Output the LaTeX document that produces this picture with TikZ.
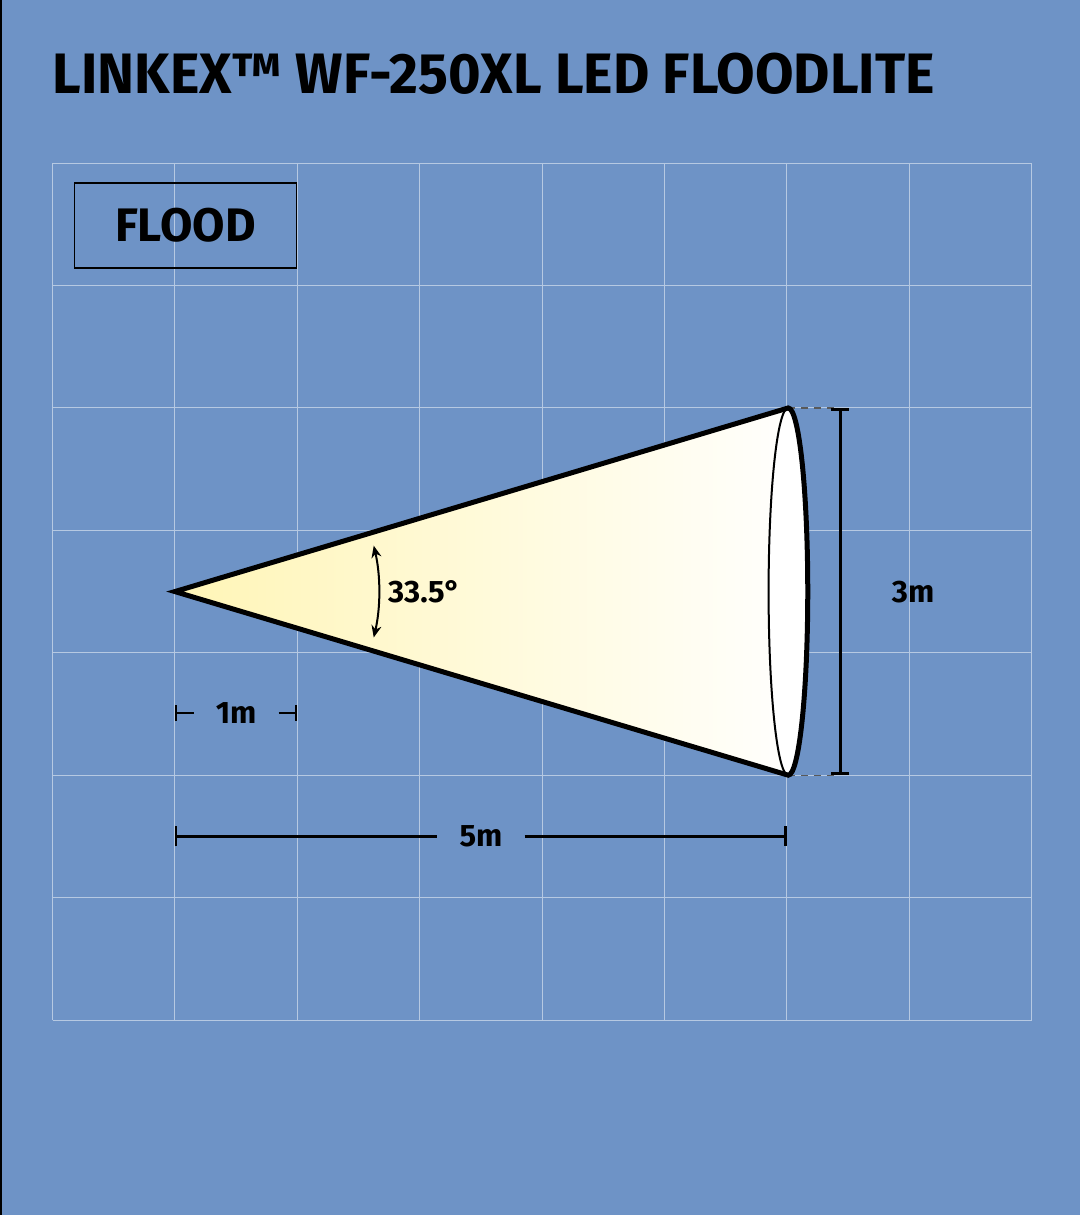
\documentclass[tikz,border=0pt]{standalone}
\usepackage{fontspec}
\setmainfont{Fira Sans}
\newfontfamily\headfont{Fira Sans}[FakeStretch=0.98]
\usetikzlibrary{positioning}
\usetikzlibrary{calc}
\usetikzlibrary{arrows.meta}
\definecolor{panelblue}{RGB}{110,147,198}
\definecolor{beamyellow}{RGB}{255,245,182}

\begin{document}
\begin{tikzpicture}[x=122.4pt, y=122.4pt]
% -------------------------------------------------
\tikzset{
  gridline/.style={draw=white, draw opacity=0.5, line width=1pt},
  beamline/.style={draw, line width=5pt},
  rimline/.style={draw, line width=2pt},
  dimline/.style={draw, line width=2.5pt},
  extline/.style={draw=black!65, line width=1.2pt, dash pattern=on 7pt off 6pt},
  dimlabel/.style={font=\bfseries\fontsize{31}{33}\selectfont, inner xsep=22pt, inner ysep=0pt},
  modebox/.style={draw, line width=1.5pt, minimum width=222pt, minimum height=85pt,
    font=\bfseries\fontsize{47}{50}\selectfont}
}
% -------------------------------------------------
% Panel and grid

\fill[panelblue] (-0.429,-1.593) rectangle (8.395,8.333);
\useasboundingbox (-0.429,-1.593) rectangle (8.395,8.333);
\draw[line width=5pt] (-0.429,-1.593) -- (-0.429,8.333);
\draw[gridline, step=1] (0,0) grid (8,7);

\node[anchor=base west, inner sep=0pt, font=\headfont\bfseries\fontsize{57}{60}\selectfont]
  (title) at (0,7.565) {LINKEX™ WF-250XL LED FLOODLITE};

\node[modebox] (mode) at (1.085,6.49) {FLOOD};

% -------------------------------------------------
% Beam cone

\coordinate (apex) at (1,3.5);
\coordinate (rimtop) at (6.01,5);
\coordinate (rimbot) at (6.01,2);
\coordinate (rimc) at (6.01,3.5);

\shade[left color=beamyellow, right color=white]
  (apex) -- (rimtop) arc[start angle=90, end angle=-90, x radius=0.16, y radius=1.5] -- cycle;
\fill[white] (rimc) ellipse[x radius=0.16, y radius=1.5];
\draw[rimline] (rimtop) arc[start angle=90, end angle=270, x radius=0.16, y radius=1.5];

% 3m dimension
\coordinate (d3top) at (6.434,5);
\coordinate (d3bot) at (6.434,2);
\draw[extline] (rimtop) -- (d3top);
\draw[extline] (rimbot) -- (d3bot);
\draw[line width=3pt, {Bar[width=18pt]}-{Bar[width=18pt]}] (d3top) -- (d3bot);
\node[dimlabel, inner xsep=0pt] (lbl3) at (7.03,3.5) {3m};

\draw[beamline]
  (apex) -- (rimtop) arc[start angle=90, end angle=-90, x radius=0.16, y radius=1.5] -- cycle;

% beam angle
\draw[rimline, {Stealth[length=12pt,width=10pt]}-{Stealth[length=12pt,width=10pt]}]
  ($(apex)+(-13:1.667)$) arc[start angle=-13, end angle=13, radius=1.667];
\node[dimlabel, anchor=west, inner xsep=0pt] (lblang) at (2.74,3.5) {33.5°};

% -------------------------------------------------
% 1m and 5m dimensions

\coordinate (d1a) at (1,2.508);
\coordinate (d1b) at (2,2.508);
\node[dimlabel] (lbl1) at (1.5,2.508) {1m};
\draw[dimline, {Bar[width=16pt]}-] (d1a) -- (lbl1.west);
\draw[dimline, -{Bar[width=16pt]}] (lbl1.east) -- (d1b);

\coordinate (d5a) at (1,1.5);
\coordinate (d5b) at (6,1.5);
\node[dimlabel] (lbl5) at (3.5,1.5) {5m};
\draw[dimline, {Bar[width=20pt]}-] (d5a) -- (lbl5.west);
\draw[dimline, -{Bar[width=20pt]}] (lbl5.east) -- (d5b);

\end{tikzpicture}
\end{document}
